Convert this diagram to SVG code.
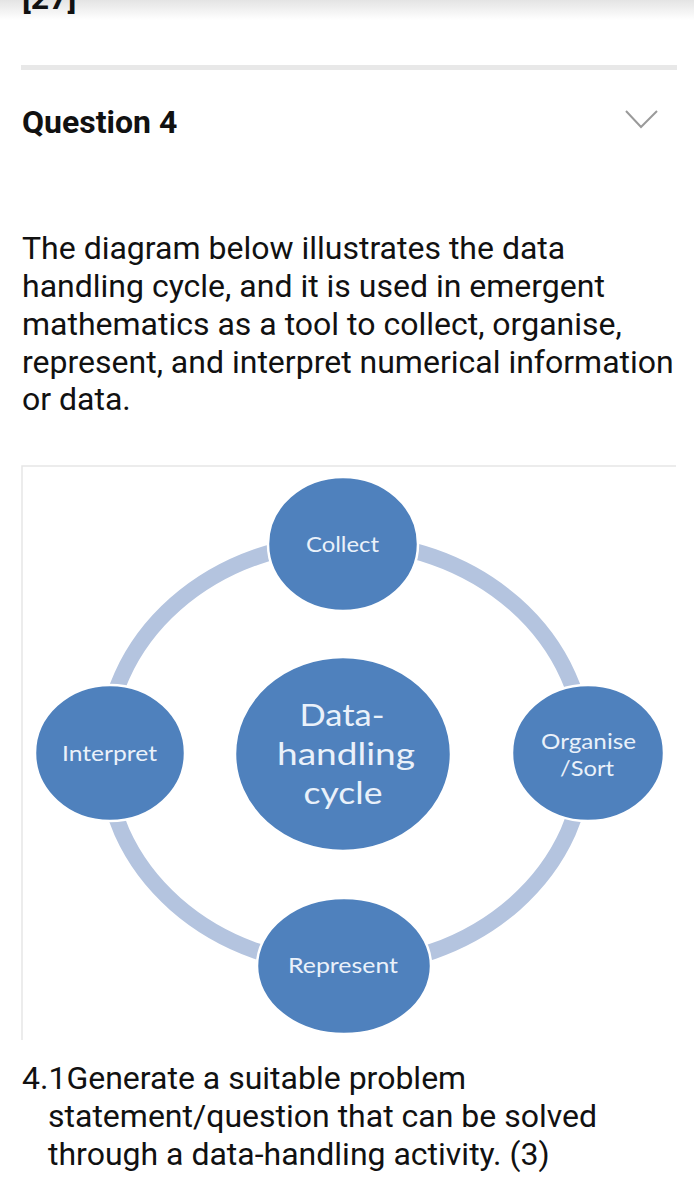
<svg xmlns="http://www.w3.org/2000/svg" width="694" height="1181" viewBox="0 0 694 1181">
<style>
.page{font-family:Roboto,"Liberation Sans",sans-serif;fill:#111111}
.body{font-size:32px}
.head{font-size:32px;font-weight:bold}
.node{fill:#4F81BD;stroke:#FFFFFF;stroke-width:2.5}
.lbl{font-family:Lato,"Open Sans",sans-serif;fill:#EAF1FA;text-anchor:middle}
.small{font-size:22px}
.big{font-size:31px}
.arc{fill:none;stroke:#B4C4DF;stroke-width:16;stroke-linecap:butt}
</style>
<defs>
<linearGradient id="topShade" x1="0" y1="0" x2="0" y2="1">
<stop offset="0" stop-color="#E4E4E4"/>
<stop offset="1" stop-color="#FFFFFF"/>
</linearGradient>
</defs>
<rect x="0" y="0" width="694" height="1181" fill="#FFFFFF"/>
<rect x="0" y="0" width="694" height="20" fill="url(#topShade)"/>
<g id="page-text" class="page">
<text class="head" x="22" y="9">[27]</text>
<rect x="21" y="65" width="656" height="5" fill="#E8E8E8"/>
<text class="head" x="22" y="133">Question 4</text>
<polyline points="626,111 641,127 657,111" fill="none" stroke="#9A9A9A" stroke-width="2"/>
<text class="body" x="22" y="259">The diagram below illustrates the data</text>
<text class="body" x="22" y="297">handling cycle, and it is used in emergent</text>
<text class="body" x="22" y="335">mathematics as a tool to collect, organise,</text>
<text class="body" x="22" y="373">represent, and interpret numerical information</text>
<text class="body" x="22" y="410">or data.</text>
<text class="body" x="22" y="1089">4.1Generate a suitable problem</text>
<text class="body" x="48" y="1127">statement/question that can be solved</text>
<text class="body" x="48" y="1165">through a data-handling activity. (3)</text>
</g>
<g id="frame" fill="none" stroke="#E6E6E6" stroke-width="1.5">
<path d="M22 1040 V466 H676"/>
</g>
<g id="connectors">
<path class="arc" d="M345 542 A240 212 0 0 1 585 754"/>
<path class="arc" d="M585 754 A240 212 0 0 1 345 966"/>
<path class="arc" d="M345 966 A240 212 0 0 1 105 754"/>
<path class="arc" d="M105 754 A240 212 0 0 1 345 542"/>
</g>
<g id="node-center">
<ellipse class="node" cx="343" cy="754" rx="108" ry="97"/>
<text class="lbl big" x="342" y="726" textLength="85" lengthAdjust="spacingAndGlyphs">Data-</text>
<text class="lbl big" x="346" y="765" textLength="138" lengthAdjust="spacingAndGlyphs">handling</text>
<text class="lbl big" x="343" y="804" textLength="79" lengthAdjust="spacingAndGlyphs">cycle</text>
</g>
<g id="node-collect">
<ellipse class="node" cx="343" cy="544" rx="75" ry="67"/>
<text class="lbl small" x="342.5" y="552" textLength="73" lengthAdjust="spacingAndGlyphs">Collect</text>
</g>
<g id="node-organise">
<ellipse class="node" cx="588" cy="753" rx="76" ry="68"/>
<text class="lbl small" x="588.5" y="749" textLength="95" lengthAdjust="spacingAndGlyphs">Organise</text>
<text class="lbl small" x="587" y="776" textLength="54" lengthAdjust="spacingAndGlyphs">/Sort</text>
</g>
<g id="node-represent">
<ellipse class="node" cx="344" cy="966" rx="87" ry="68"/>
<text class="lbl small" x="343" y="973" textLength="110" lengthAdjust="spacingAndGlyphs">Represent</text>
</g>
<g id="node-interpret">
<ellipse class="node" cx="110" cy="753" rx="75" ry="68"/>
<text class="lbl small" x="109.5" y="761" textLength="95" lengthAdjust="spacingAndGlyphs">Interpret</text>
</g>
</svg>
